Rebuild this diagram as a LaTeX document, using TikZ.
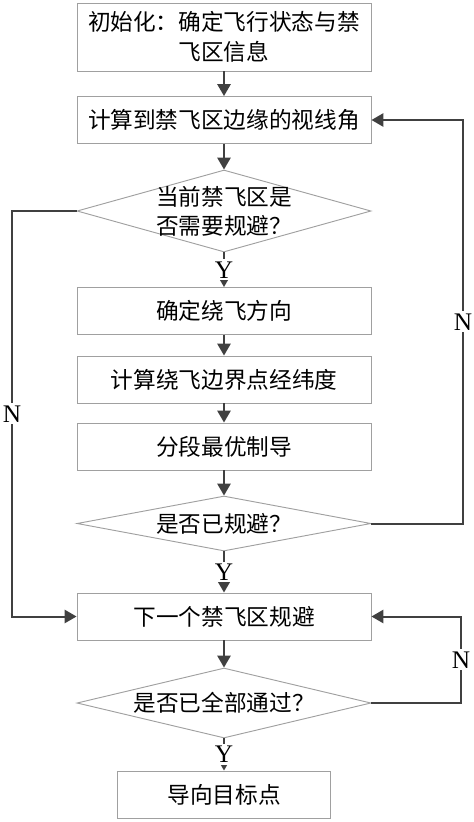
\documentclass[tikz,border=0pt]{standalone}
\usepackage{fontspec}
\setmainfont{Liberation Serif}
\newfontfamily\cjk{Noto Sans CJK SC}
\usepackage{tikz}
\usetikzlibrary{shapes,arrows,arrows.meta,positioning}

\definecolor{boxgray}{HTML}{A0A0A0}
\definecolor{linegray}{HTML}{404040}

\tikzset{
    box/.style={draw=boxgray, line width=0.7pt, minimum width=220.5pt, minimum height=35.25pt,
        inner sep=0pt, align=center, font=\cjk\fontsize{17}{22.5}\selectfont},
    dia/.style={diamond, draw=boxgray, line width=0.7pt, minimum width=220.5pt, inner sep=0pt},
    diatext/.style={align=center, inner sep=0pt, font=\cjk\fontsize{17}{22}\selectfont},
    arr/.style={draw=linegray, line width=1.5pt, -{Triangle[length=9pt,width=10pt]}},
    yn/.style={fill=white, inner sep=1.5pt, font=\fontsize{19}{19}\selectfont}
}

\begin{document}
\begin{tikzpicture}[x=0.75pt, y=-0.75pt]
    \useasboundingbox (0,0) rectangle (474,822);

    % 初始化与视线角
    \node[box, minimum height=51pt] (init) at (224,37) {初始化：确定飞行状态与禁\\飞区信息};
    \node[box] (angle) at (224,120) {计算到禁飞区边缘的视线角};

    % 是否需要规避
    \node[dia, minimum height=61.5pt] (need) at (224,211) {};
    \node[diatext] (needt) at (need) {当前禁飞区是\\否需要规避？};

    % 绕飞过程
    \node[box] (dir) at (224,311) {确定绕飞方向};
    \node[box] (bound) at (224,379.5) {计算绕飞边界点经纬度};
    \node[box] (guide) at (224,446.5) {分段最优制导};
    \node[dia, minimum height=41.25pt] (done) at (224,523.5) {};
    \node[diatext] (donet) at (done) {是否已规避？};

    % 下一个禁飞区
    \node[box] (next) at (224,616.5) {下一个禁飞区规避};
    \node[dia, minimum height=52.5pt] (all) at (224,703) {};
    \node[diatext] (allt) at (all) {是否已全部通过？};
    \node[box, minimum width=159.75pt] (goal) at (224,794.5) {导向目标点};

    % 主流程
    \draw[arr] (init) -- (angle);
    \draw[arr] (angle) -- (need);
    \draw[arr] (need) -- node[yn] {Y} (dir);
    \draw[arr] (dir) -- (bound);
    \draw[arr] (bound) -- (guide);
    \draw[arr] (guide) -- (done);
    \draw[arr] (done) -- node[yn] {Y} (next);
    \draw[arr] (next) -- (all);
    \draw[arr] (all) -- node[yn] {Y} (goal);

    % 回路
    \coordinate (lx) at (12,0);
    \coordinate (rx1) at (463,0);
    \coordinate (rx2) at (461,0);
    \draw[arr] (need.west) -- (need.west -| lx) -- node[yn] {N} (next.west -| lx) -- (next.west);
    \draw[arr] (done.east) -- (done.east -| rx1) -- node[yn] {N} (angle.east -| rx1) -- (angle.east);
    \draw[arr] (all.east) -- (all.east -| rx2) -- node[yn] {N} (next.east -| rx2) -- (next.east);
\end{tikzpicture}
\end{document}
